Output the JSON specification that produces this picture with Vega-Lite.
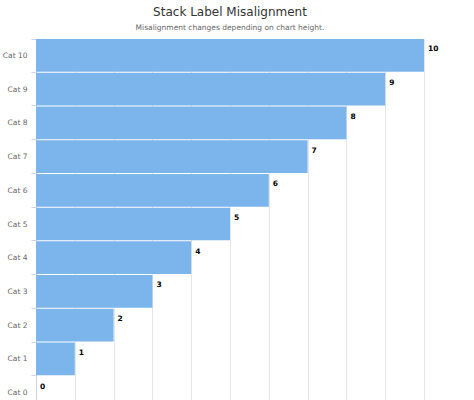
{
  "$schema": "https://vega.github.io/schema/vega-lite/v6.json",
  "autosize": "none",
  "padding": {"left": 36, "top": 39, "right": 50, "bottom": 0},
  "width": 388,
  "height": 370,
  "title": {
    "text": "Stack Label Misalignment",
    "subtitle": "Misalignment changes depending on chart height.",
    "font": "DejaVu Sans",
    "fontSize": 12,
    "fontWeight": "normal",
    "color": "#333333",
    "subtitleFont": "DejaVu Sans",
    "subtitleFontSize": 7.5,
    "subtitleColor": "#666666",
    "subtitlePadding": 5,
    "offset": 3,
    "anchor": "middle"
  },
  "config": {
    "view": {"stroke": null},
    "font": "DejaVu Sans"
  },
  "data": {
    "values": [
      {"cat": "Cat 0", "value": 0},
      {"cat": "Cat 1", "value": 1},
      {"cat": "Cat 2", "value": 2},
      {"cat": "Cat 3", "value": 3},
      {"cat": "Cat 4", "value": 4},
      {"cat": "Cat 5", "value": 5},
      {"cat": "Cat 6", "value": 6},
      {"cat": "Cat 7", "value": 7},
      {"cat": "Cat 8", "value": 8},
      {"cat": "Cat 9", "value": 9},
      {"cat": "Cat 10", "value": 10}
    ]
  },
  "encoding": {
    "y": {
      "field": "cat",
      "type": "nominal",
      "sort": ["Cat 10", "Cat 9", "Cat 8", "Cat 7", "Cat 6", "Cat 5", "Cat 4", "Cat 3", "Cat 2", "Cat 1", "Cat 0"],
      "scale": {"paddingInner": 0.03, "paddingOuter": 0},
      "axis": {
        "title": null,
        "labelFontSize": 7.5,
        "labelColor": "#666666",
        "labelPadding": 4,
        "tickBand": "extent",
        "tickSize": 5,
        "tickColor": "#ccd6eb",
        "domainColor": "#ccd6eb",
        "grid": false
      }
    },
    "x": {
      "field": "value",
      "type": "quantitative",
      "scale": {"domain": [0, 10], "nice": false},
      "axis": {
        "title": null,
        "values": [0, 1, 2, 3, 4, 5, 6, 7, 8, 9, 10],
        "grid": true,
        "gridColor": "#e6e6e6",
        "domain": false,
        "ticks": false,
        "labels": false
      }
    }
  },
  "layer": [
    {
      "mark": {"type": "bar", "color": "#7cb5ec"}
    },
    {
      "mark": {
        "type": "text",
        "align": "left",
        "baseline": "middle",
        "dx": 4,
        "dy": -6,
        "fontSize": 7.5,
        "fontWeight": "bold",
        "color": "#000000"
      },
      "encoding": {"text": {"field": "value", "type": "quantitative"}}
    }
  ]
}
